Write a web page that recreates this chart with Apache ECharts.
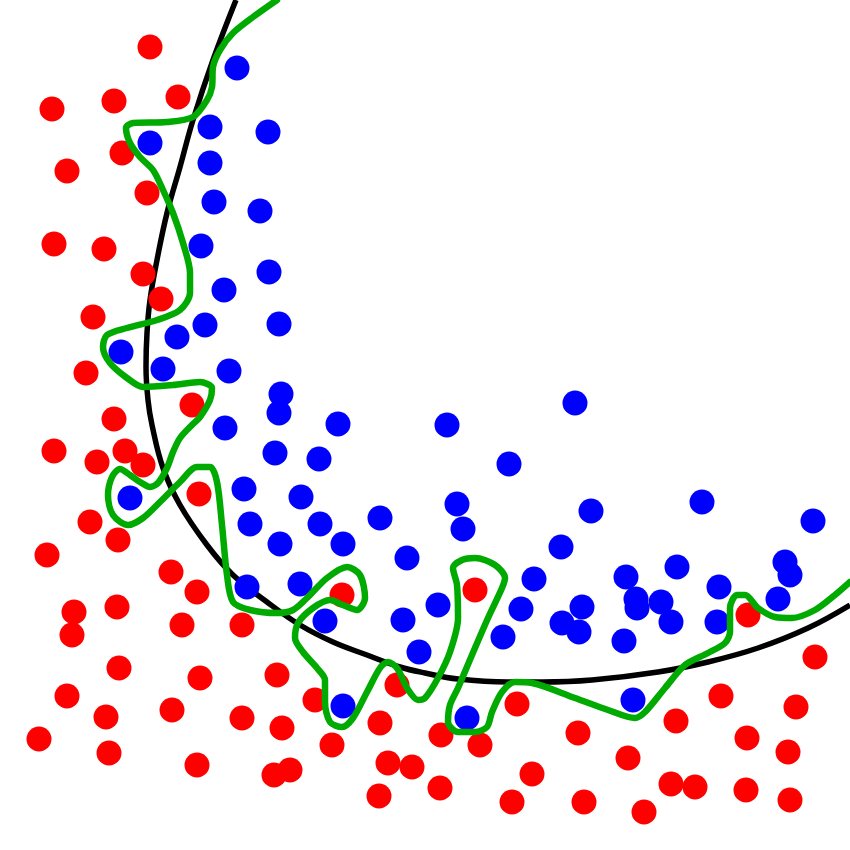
<!DOCTYPE html>
<html>
<head>
<meta charset="utf-8">
<script src="https://cdn.jsdelivr.net/npm/echarts@6/dist/echarts.min.js"></script>
<style>html,body{margin:0;padding:0;background:#fff}#c{width:850px;height:850px}</style>
</head>
<body>
<div id="c"></div>
<script>
var redPoints = [
  [150,47],[52,109],[114,101],[178,97],[122,153],[67,171],[147,193],[54,244],[104,249],[143,274],
  [161,299],[93,317],[86,373],[192,405],[114,419],[54,451],[97,462],[125,451],[143,465],[199,494],
  [90,522],[118,540],[47,555],[171,572],[197,592],[74,612],[117,607],[72,635],[182,625],[242,625],
  [342,595],[119,668],[200,678],[277,675],[67,696],[106,717],[172,710],[242,718],[315,700],[397,685],
  [282,728],[380,723],[39,739],[109,753],[332,745],[197,765],[274,775],[290,770],[388,763],[412,767],
  [379,796],[475,590],[748,615],[815,657],[721,696],[796,707],[517,704],[676,721],[578,733],[747,738],
  [788,752],[441,735],[480,745],[628,758],[532,774],[440,788],[671,784],[695,787],[746,790],[512,802],
  [584,802],[644,812],[790,800]
];
var bluePoints = [
  [237,68],[150,143],[210,127],[268,132],[210,163],[214,202],[260,211],[201,246],[269,272],[224,290],
  [205,325],[279,324],[177,337],[121,352],[163,369],[229,371],[281,394],[279,413],[338,424],[225,428],
  [575,403],[447,425],[275,453],[319,459],[130,498],[244,489],[301,497],[250,524],[320,524],[280,544],
  [343,544],[380,518],[407,558],[247,587],[300,584],[325,621],[403,620],[419,652],[343,706],[509,464],
  [457,504],[463,529],[591,511],[702,502],[813,521],[561,547],[785,562],[790,575],[534,579],[626,577],
  [719,587],[677,567],[438,605],[521,609],[582,607],[636,599],[637,608],[661,602],[778,599],[562,623],
  [579,632],[671,622],[717,622],[503,637],[624,641],[633,700],[467,718]
];
var blackCurve = [
  [236,0],[213,60],[193,120],[180,167],[167,213],[157,260],[150,300],[147,333],[146,367],[148,400],
  [152,425],[163,468],[180,505],[207,545],[233,575],[267,602],[300,625],[333,642],[367,655],[400,667],
  [425,673],[458,679],[508,682],[542,682],[592,680],[658,672],[708,662],[758,648],[808,628],[850,605]
];
var greenCurve = [
  [277,0],[253,17],[233,33],[220,50],[213,67],[212,87],[207,100],[193,117],[167,122],[133,123],
  [126,128],[130,143],[140,157],[153,170],[163,190],[173,213],[183,243],[190,273],[190,293],[180,310],
  [157,320],[127,328],[107,335],[103,347],[110,363],[127,378],[143,387],[173,385],[200,382],[212,388],
  [210,400],[200,417],[192,425],[180,438],[173,452],[167,468],[158,483],[150,487],[140,482],[130,475],
  [120,469],[112,477],[108,495],[113,515],[128,525],[143,518],[160,502],[180,482],[197,467],[210,467],
  [217,482],[222,525],[227,575],[233,602],[250,610],[277,613],[293,610],[307,598],[327,578],[347,567],
  [360,575],[365,598],[357,610],[343,605],[330,600],[313,608],[298,623],[295,638],[303,652],[317,668],
  [325,680],[325,702],[330,722],[342,727],[353,718],[367,692],[380,668],[388,662],[397,668],[407,688],
  [418,700],[425,698],[438,678],[450,652],[458,618],[457,585],[453,568],[462,560],[475,558],[495,565],
  [505,578],[502,588],[488,618],[472,655],[458,688],[450,705],[448,722],[458,732],[475,732],[487,727],
  [492,712],[502,692],[515,682],[532,683],[575,698],[608,710],[635,718],[645,712],[665,688],[685,665],
  [708,653],[725,643],[730,632],[730,608],[737,595],[745,595],[758,608],[775,617],[792,618],[815,610],
  [835,595],[850,582]
];

var chart = echarts.init(document.getElementById('c'), null, {renderer:'canvas'});
chart.setOption({
  animation: false,
  backgroundColor: '#ffffff',
  grid: {left:0, right:0, top:0, bottom:0},
  xAxis: {type:'value', min:0, max:850, show:false},
  yAxis: {type:'value', min:0, max:850, inverse:true, show:false},
  series: [
    {type:'line', data: blackCurve, showSymbol:false, symbol:'none', smooth:0.4, lineStyle:{color:'#000000', width:5.5}, z:1},
    {type:'scatter', data: redPoints, symbol:'circle', symbolSize:25, itemStyle:{color:'#ff0000', opacity:1}, z:2},
    {type:'scatter', data: bluePoints, symbol:'circle', symbolSize:25, itemStyle:{color:'#0000ff', opacity:1}, z:2},
    {type:'line', data: greenCurve, showSymbol:false, symbol:'none', smooth:0.3, lineStyle:{color:'#00aa00', width:6.5, join:'round', cap:'round'}, z:4}
  ]
});
</script>
</body>
</html>
